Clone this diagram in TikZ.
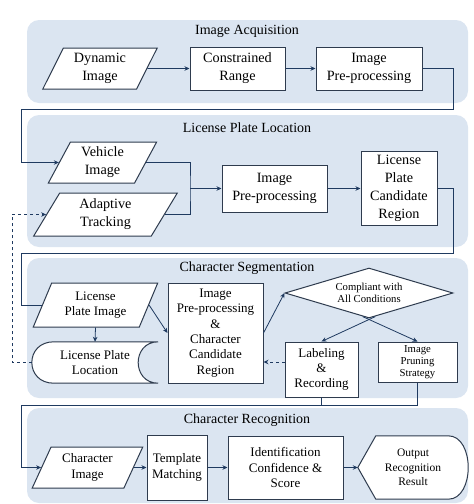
\documentclass[tikz,border=0pt]{standalone}
\usepackage{fontspec}
\setmainfont{Liberation Serif}
\usetikzlibrary{shapes.geometric, arrows.meta, calc}
\definecolor{stageblue}{HTML}{DBE5F1}
\definecolor{linknavy}{HTML}{1F3A60}
\definecolor{boxgrey}{HTML}{2E3B4E}
\pgfdeclarelayer{stages}
\pgfdeclarelayer{shapes}
\pgfsetlayers{stages,shapes,main}
\tikzset{
    >={Stealth[length=5pt,width=4.5pt]}, % small filled heads
    x=1pt, y=-1pt, % one unit per pixel, measured from the top
    stagebox/.style={fill=stageblue, rounded corners=12pt},
    stagetitle/.style={font=\fontsize{14}{16}\selectfont},
    bigtext/.style={font=\fontsize{14.2}{18}\selectfont},
    midtext/.style={font=\fontsize{13}{15.3}\selectfont},
    smalltext/.style={font=\fontsize{10.7}{12.2}\selectfont},
    proc/.style={rectangle, draw=boxgrey, line width=1pt, fill=white, align=center, inner sep=1pt},
    io/.style={trapezium, trapezium left angle=65, trapezium right angle=115,
        trapezium stretches=true, draw=boxgrey, line width=1pt, fill=white, align=center, inner sep=1pt},
    decision/.style={diamond, draw=boxgrey, line width=1pt, fill=white, align=center,
        inner sep=0pt, aspect=3.36, smalltext},
    freeform/.style={rectangle, align=center, inner sep=1pt}, % text only, outline drawn on a layer below
    outline/.style={draw=boxgrey, line width=1pt, fill=white},
    flow/.style={linknavy, line width=0.8pt},
    feedback/.style={flow, dashed},
}
\begin{document}
\begin{tikzpicture}
\useasboundingbox (0,0) rectangle (474,504);

% stages
\begin{pgfonlayer}{stages}
    \fill[stagebox] (27,20) rectangle (468,103);
    \fill[stagebox] (27,115) rectangle (468,247);
    \fill[stagebox] (27,258) rectangle (468,398);
    \fill[stagebox] (27,408) rectangle (468,503);
\end{pgfonlayer}

% image acquisition
\node[stagetitle] (t1) at (247,31) {Image Acquisition};
\node[io, bigtext, minimum width=115pt, minimum height=41pt] (dyn) at (100,68.5) {Dynamic\\Image};
\node[proc, bigtext, minimum width=95pt, minimum height=43pt] (con) at (237.5,68.5) {Constrained\\Range};
\node[proc, bigtext, minimum width=106pt, minimum height=43pt] (pre1) at (369,68.5) {Image\\Pre-processing};

% license plate location
\node[stagetitle] (t2) at (247,128) {License Plate Location};
\node[io, bigtext, minimum width=109pt, minimum height=41pt] (veh) at (102.5,162.5) {Vehicle\\Image};
\node[io, bigtext, minimum width=145pt, minimum height=43pt] (ada) at (105.5,214.5) {Adaptive\\Tracking};
\node[proc, bigtext, minimum width=105pt, minimum height=47pt] (pre2) at (274.5,188.5) {Image\\Pre-processing};
\node[proc, bigtext, minimum width=76pt, minimum height=74pt] (cand) at (399,188.5) {License\\Plate\\Candidate\\Region};

% character segmentation
\node[stagetitle] (t3) at (247,268) {Character Segmentation};
\node[io, midtext, minimum width=125pt, minimum height=44pt] (lpi) at (95.5,305) {License\\Plate Image};
\node[freeform, midtext, minimum width=126pt, minimum height=41pt] (lpl) at (95,362.5) {License Plate\\Location};
\node[proc, midtext, minimum width=95pt, minimum height=100pt] (seg) at (215.5,333) {Image\\Pre-processing\\\&\\Character\\Candidate\\Region};
\node[decision, minimum width=168pt, minimum height=50pt] (dia) at (369,293) {Compliant with\\All Conditions};
\node[proc, midtext, minimum width=73pt, minimum height=55pt] (lab) at (321.5,369.5) {Labeling\\\&\\Recording};
\node[proc, smalltext, minimum width=79pt, minimum height=40pt] (prune) at (417.5,362) {Image\\Pruning\\Strategy};

% character recognition
\node[stagetitle] (t4) at (247,420) {Character Recognition};
\node[io, midtext, minimum width=111pt, minimum height=41pt] (chi) at (87.5,467.5) {Character\\Image};
\node[proc, midtext, minimum width=60pt, minimum height=65pt] (tmp) at (177,467.5) {Template\\Matching};
\node[proc, midtext, minimum width=115pt, minimum height=63pt] (idf) at (285.5,467.5) {Identification\\Confidence \&\\Score};
\node[freeform, font=\fontsize{11.5}{14.3}\selectfont, minimum width=110pt, minimum height=63pt] (out) at (413,467.5) {Output\\Recognition\\Result};

% stored data and display outlines
\begin{pgfonlayer}{shapes}
    \draw[outline] ($(lpl.north west)+(22,0)$) -- (lpl.north east)
        .. controls ($(lpl.north east)+(-26.7,0)$) and ($(lpl.south east)+(-26.7,0)$) .. (lpl.south east)
        -- ($(lpl.south west)+(22,0)$)
        .. controls ($(lpl.south west)+(-7.3,0)$) and ($(lpl.north west)+(-7.3,0)$) .. cycle;
    \draw[outline] (out.west) -- ($(out.north west)+(18,0)$) -- ($(out.north east)+(-20,0)$)
        .. controls ($(out.north east)+(6.7,0)$) and ($(out.south east)+(6.7,0)$) .. ($(out.south east)+(-20,0)$)
        -- ($(out.south west)+(18,0)$) -- cycle;
\end{pgfonlayer}

% connectors
\coordinate (r1) at (453,109);
\coordinate (l1) at (21,109);
\coordinate (j1) at (190,188.5);
\coordinate (r2) at (453,253);
\coordinate (l2) at (21,253);
\coordinate (d1) at (12,300);
\coordinate (l3) at (21,405);
\coordinate (fb) at ([yshift=7.5pt]lab.west);

\draw[flow,->] (dyn.east) -- (con.west);
\draw[flow,->] (con.east) -- (pre1.west);
\draw[flow,->] (pre1.east) -| (r1) -- (l1) |- (veh.west);
\draw[flow] (veh.east) -| (j1) |- (ada.east);
\draw[flow,->] (j1) -- (pre2.west);
\draw[flow,->] (pre2.east) -- (cand.west);
\draw[flow] (cand.east) -| (r2) -- (l2) |- (lpi.west);
\draw[flow,->] (lpi.south) -- (lpl.north);
\draw[flow,->] (lpi.east) -- (seg.west);
\draw[flow,->] (seg.east) -- (dia.west);
\draw[flow,->] (dia.285) -- (lab.north);
\draw[flow,->] (dia.255) -- (prune.north);
\draw[feedback,->] (fb) -- (fb -| seg.east);
\draw[feedback,->] (lpl.west) -| (d1) |- (ada.west);
\draw[flow] (lab.south) -- (lab.south |- l3);
\draw[flow,->] (prune.south) |- (l3) |- (chi.west);
\draw[flow,->] (chi.east) -- (tmp.west);
\draw[flow,->] (tmp.east) -- (idf.west);
\draw[flow,->] (idf.east) -- (out.west);
\end{tikzpicture}
\end{document}
